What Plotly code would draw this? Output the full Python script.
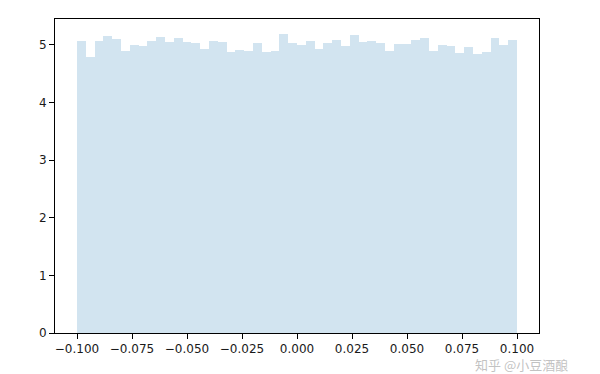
import numpy as np
import plotly.graph_objects as go

# Histogram (density) of uniform samples on [-0.1, 0.1], 50 bins
bin_lo = -0.1
bin_hi = 0.1
n_bins = 50
density = [
    5.07, 4.79, 5.07, 5.16, 5.10, 4.90, 4.99, 4.98, 5.06, 5.14,
    5.05, 5.12, 5.05, 5.04, 4.93, 5.07, 5.05, 4.87, 4.91, 4.89,
    5.04, 4.87, 4.89, 5.19, 5.04, 4.99, 5.06, 4.93, 5.03, 5.08,
    4.98, 5.17, 5.05, 5.06, 5.03, 4.90, 5.02, 5.02, 5.09, 5.12,
    4.90, 5.00, 4.98, 4.86, 4.96, 4.85, 4.87, 5.12, 5.00, 5.09,
]
x_ticks = [-0.100, -0.075, -0.050, -0.025, 0.000, 0.025, 0.050, 0.075, 0.100]
x_ticklabels = ["\u22120.100", "\u22120.075", "\u22120.050", "\u22120.025",
                "0.000", "0.025", "0.050", "0.075", "0.100"]
y_ticks = [0, 1, 2, 3, 4, 5]
watermark = "知乎 @小豆酒酿"

edges = np.linspace(bin_lo, bin_hi, n_bins + 1)
centers = (edges[:-1] + edges[1:]) / 2
width = edges[1] - edges[0]

fig = go.Figure(go.Bar(
    x=centers, y=density, width=width,
    marker=dict(color="rgba(31,119,180,0.2)", line=dict(width=0)),
    hoverinfo="skip",
))

span = bin_hi - bin_lo
font = dict(family="DejaVu Sans", size=12, color="#1a1a1a")
fig.update_layout(
    width=600, height=374,
    margin=dict(l=55, r=61, t=19, b=41),
    paper_bgcolor="white", plot_bgcolor="white",
    bargap=0, showlegend=False, font=font,
    xaxis=dict(
        range=[bin_lo - 0.05 * span, bin_hi + 0.05 * span],
        tickvals=x_ticks, ticktext=x_ticklabels,
        ticks="outside", ticklen=5, tickwidth=1, tickcolor="black",
        showline=True, linecolor="black", linewidth=1, mirror=True,
        showgrid=False, zeroline=False, tickfont=font,
    ),
    yaxis=dict(
        range=[0, max(density) * 1.05],
        tickvals=y_ticks,
        ticks="outside", ticklen=5, tickwidth=1, tickcolor="black",
        showline=True, linecolor="black", linewidth=1, mirror=True,
        showgrid=False, zeroline=False, tickfont=font,
    ),
    annotations=[dict(
        text=watermark, xref="paper", yref="paper",
        x=(521 - 55) / 484, y=-(364 - 333) / 314,
        xanchor="center", yanchor="middle", showarrow=False, borderpad=0,
        font=dict(family="Noto Sans CJK SC", size=13, color="rgba(190,190,190,0.95)"),
    )],
)

fig.write_html("out.html")
